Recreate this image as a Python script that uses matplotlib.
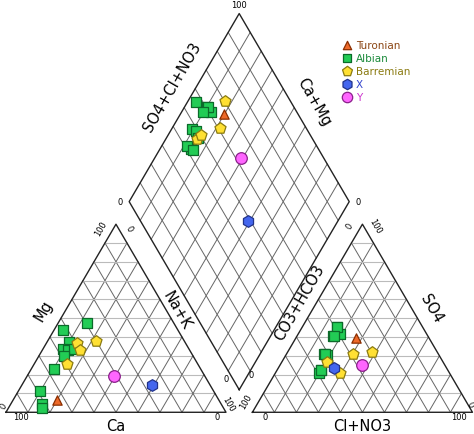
import numpy as np
import matplotlib
matplotlib.use("Agg")
import matplotlib.pyplot as plt

# Cation fractions (Mg, Na+K), anion fractions (SO4, Cl+NO3)
groups = ["Turonian", "Albian", "Barremian", "X", "Y"]
turonian_mg = [0.065]; turonian_nak = [0.20]
turonian_so4 = [0.393]; turonian_cl = [0.273]
albian_mg = [0.474, 0.439, 0.375, 0.336, 0.333, 0.336, 0.297, 0.228, 0.112, 0.042, 0.021]
albian_nak = [0.133, 0.038, 0.10, 0.093, 0.117, 0.141, 0.115, 0.106, 0.099, 0.144, 0.152]
albian_so4 = [0.451, 0.405, 0.414, 0.308, 0.304, 0.225, 0.209, 0.451, 0.405, 0.308, 0.225]
albian_cl = [0.158, 0.165, 0.189, 0.171, 0.188, 0.197, 0.20, 0.16, 0.17, 0.175, 0.20]
barremian_mg = [0.368, 0.379, 0.331, 0.258]
barremian_nak = [0.139, 0.22, 0.17, 0.148]
barremian_so4 = [0.265, 0.310, 0.322, 0.211]
barremian_cl = [0.208, 0.30, 0.382, 0.293]
x_mg = [0.145]; x_nak = [0.593]; x_so4 = [0.237]; x_cl = [0.252]
y_mg = [0.191]; y_nak = [0.394]; y_so4 = [0.253]; y_cl = [0.372]

h = np.sqrt(3) / 2
g = 0.12
fig = plt.figure(figsize=(4.74, 4.35), dpi=100)
ax = fig.add_axes([0, 0, 1, 1])
ax.set_xlim(-0.027, 2.127)
ax.set_ylim(-0.10, 1.903)
ax.axis("off")

B = np.array([1 + g / 2, g * h])
L = np.array([0.5 + g / 2, (1 + g) * h])
R = np.array([1.5 + g / 2, (1 + g) * h])
T = np.array([1 + g / 2, (2 + g) * h])

def tri_grid(x0):
    A = np.array([x0, 0]); C = np.array([x0 + 1, 0]); P = np.array([x0 + 0.5, h])
    for i in range(1, 10):
        f = i / 10
        p1 = A + f * (P - A); p2 = C + f * (P - C)
        ax.plot([p1[0], p2[0]], [p1[1], p2[1]], color="#bbbbbb", lw=0.8)
        q1 = A + f * (C - A); q2 = P + f * (C - P)
        ax.plot([q1[0], q2[0]], [q1[1], q2[1]], color="#666666", lw=0.7)
        r1 = C + f * (A - C); r2 = P + f * (A - P)
        ax.plot([r1[0], r2[0]], [r1[1], r2[1]], color="#666666", lw=0.7)
    ax.plot([A[0], C[0], P[0], A[0]], [A[1], C[1], P[1], A[1]], color="#222222", lw=1.0)

tri_grid(0)
tri_grid(1 + g)
for i in range(1, 10):
    f = i / 10
    p1 = B + f * (L - B); p2 = R + f * (T - R)
    ax.plot([p1[0], p2[0]], [p1[1], p2[1]], color="#666666", lw=0.7)
    q1 = B + f * (R - B); q2 = L + f * (T - L)
    ax.plot([q1[0], q2[0]], [q1[1], q2[1]], color="#666666", lw=0.7)
ax.plot([B[0], L[0], T[0], R[0], B[0]], [B[1], L[1], T[1], R[1], B[1]], color="#222222", lw=1.0)

styles = {
    "Turonian": dict(marker="^", fc="#EE6A2A", ec="#8B2E00", s=45, tc="#8B4513"),
    "Albian": dict(marker="s", fc="#22CC55", ec="#0B6B2A", s=42, tc="#1A8A3A"),
    "Barremian": dict(marker="p", fc="#FFE033", ec="#8A7A10", s=70, tc="#8A7A10"),
    "X": dict(marker="h", fc="#4466EE", ec="#22338A", s=70, tc="#3344CC"),
    "Y": dict(marker="o", fc="#FF66FF", ec="#8A208A", s=70, tc="#CC33CC"),
}
data = {
    "Turonian": (turonian_mg, turonian_nak, turonian_so4, turonian_cl),
    "Albian": (albian_mg, albian_nak, albian_so4, albian_cl),
    "Barremian": (barremian_mg, barremian_nak, barremian_so4, barremian_cl),
    "X": (x_mg, x_nak, x_so4, x_cl),
    "Y": (y_mg, y_nak, y_so4, y_cl),
}
for name in ["Albian", "Barremian", "Turonian", "X", "Y"]:
    mg, nak, so4, cl = (np.array(v) for v in data[name])
    st = styles[name]
    cx = nak + mg / 2; cy = mg * h
    axx = 1 + g + cl + so4 / 2; ay = so4 * h
    camg = 1 - nak; scl = so4 + cl
    d = B[None, :] + camg[:, None] * (L - B) + scl[:, None] * (R - B)
    for xs, ys in [(cx, cy), (axx, ay), (d[:, 0], d[:, 1])]:
        ax.scatter(xs, ys, marker=st["marker"], s=st["s"], facecolor=st["fc"],
                   edgecolor=st["ec"], linewidths=0.9, zorder=5)

for i, name in enumerate(groups):
    st = styles[name]
    yy = 1.69 - i * 0.06
    ax.scatter([1.55], [yy], marker=st["marker"], s=st["s"] * 0.8, facecolor=st["fc"],
               edgecolor=st["ec"], linewidths=0.9, zorder=5)
    ax.text(1.59, yy, name, color=st["tc"], fontsize=7.5, va="center", ha="left")

fs = 10.5
ax.text(0.5, -0.06, "Ca", fontsize=fs, ha="center", va="center")
ax.text(0.17, 0.47, "Mg", fontsize=fs, rotation=60, ha="center", va="center")
ax.text(0.775, 0.47, "Na+K", fontsize=fs, rotation=-60, ha="center", va="center")
ax.text(1.335, 0.51, "CO3+HCO3", fontsize=fs, rotation=60, ha="center", va="center")
ax.text(1.935, 0.48, "SO4", fontsize=fs, rotation=-60, ha="center", va="center")
ax.text(1.5 + g, -0.06, "Cl+NO3", fontsize=fs, ha="center", va="center")
ax.text(0.755, 1.50, "SO4+Cl+NO3", fontsize=fs, rotation=60, ha="center", va="center")
ax.text(1.40, 1.43, "Ca+Mg", fontsize=fs, rotation=-60, ha="center", va="center")

ts = 6
ax.text(0.07, -0.02, "100", fontsize=ts, ha="center", va="center")
ax.text(0.96, -0.02, "0", fontsize=ts, ha="center", va="center")
ax.text(0.43, 0.85, "100", fontsize=ts, rotation=60, ha="center", va="center")
ax.text(0.56, 0.85, "0", fontsize=ts, rotation=-60, ha="center", va="center")
ax.text(-0.01, 0.03, "0", fontsize=ts, rotation=60, ha="center", va="center")
ax.text(1.01, 0.04, "100", fontsize=ts, rotation=-60, ha="center", va="center")
ax.text(1 + g + 0.06, -0.02, "0", fontsize=ts, ha="center", va="center")
ax.text(2 + g - 0.06, -0.02, "100", fontsize=ts, ha="center", va="center")
ax.text(1.5 + g - 0.06, 0.86, "0", fontsize=ts, rotation=60, ha="center", va="center")
ax.text(1.5 + g + 0.06, 0.86, "100", fontsize=ts, rotation=-60, ha="center", va="center")
ax.text(1 + g - 0.03, 0.05, "100", fontsize=ts, rotation=60, ha="center", va="center")
ax.text(2 + g - 0.01, 0.04, "0", fontsize=ts, rotation=-60, ha="center", va="center")
ax.text(T[0], T[1] + 0.04, "100", fontsize=ts, ha="center", va="center")
ax.text(L[0] - 0.04, L[1], "0", fontsize=ts, ha="center", va="center")
ax.text(R[0] + 0.04, R[1], "0", fontsize=ts, ha="center", va="center")
ax.text(B[0] - 0.06, B[1] + 0.05, "0", fontsize=ts, ha="center", va="center")
ax.text(B[0] + 0.055, B[1] + 0.07, "0", fontsize=ts, ha="center", va="center")

fig.savefig("out.png", dpi=100)
